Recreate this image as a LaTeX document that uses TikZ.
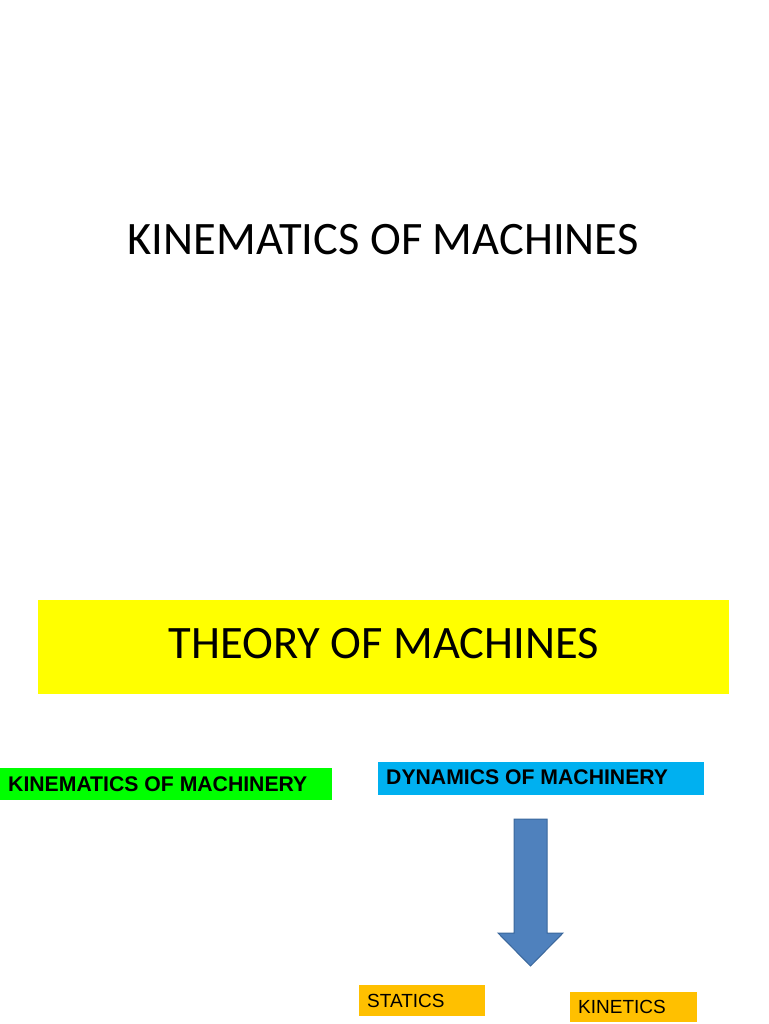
\documentclass[tikz,border=0pt]{standalone}
\usepackage{fontspec}
\setmainfont{Liberation Sans}
\newfontfamily\calibri{Carlito}
\definecolor{tomyellow}{HTML}{FFFF00}
\definecolor{kingreen}{HTML}{00FF00}
\definecolor{dynblue}{HTML}{00B0F0}
\definecolor{suborange}{HTML}{FFC000}
\definecolor{arrowfill}{HTML}{4F81BD}
\definecolor{arrowline}{HTML}{3A679C}
\tikzset{
  headline/.style={anchor=base, inner sep=0pt, font=\calibri\fontsize{46.5}{46.5}\selectfont},
  branch/.style={anchor=base west, inner sep=0pt, font=\fontsize{21.2}{21.2}\selectfont\bfseries},
  leaf/.style={anchor=base west, inner sep=0pt, font=\fontsize{19}{19}\selectfont}
}
\begin{document}
\begin{tikzpicture}[x=1pt, y=-1pt]
  \useasboundingbox[fill=white] (0,0) rectangle (768,1024);
  % title
  \node[headline] (title) at (383,254) {KINEMATICS OF MACHINES};
  % main box
  \fill[tomyellow] (38,600) rectangle (729,694);
  \node[headline] (tom) at (384,658) {THEORY OF MACHINES};
  % two branches
  \fill[kingreen] (0,768) rectangle (332,800);
  \node[branch] (kin) at (8,791) {KINEMATICS OF MACHINERY};
  \fill[dynblue] (378,762) rectangle (704,795);
  \node[branch] (dyn) at (386,784) {DYNAMICS OF MACHINERY};
  % block arrow
  \draw[fill=arrowfill, draw=arrowline, line width=1pt]
    (514,819) -- (547,819) -- (547,933) -- (563,933) -- (530.5,966)
    -- (498,933) -- (514,933) -- cycle;
  % sub boxes
  \fill[suborange] (359,985) rectangle (485,1016);
  \node[leaf] (stat) at (367,1007) {STATICS};
  \fill[suborange] (570,992) rectangle (697,1022);
  \node[leaf] (kinet) at (578,1013) {KINETICS};
\end{tikzpicture}
\end{document}
